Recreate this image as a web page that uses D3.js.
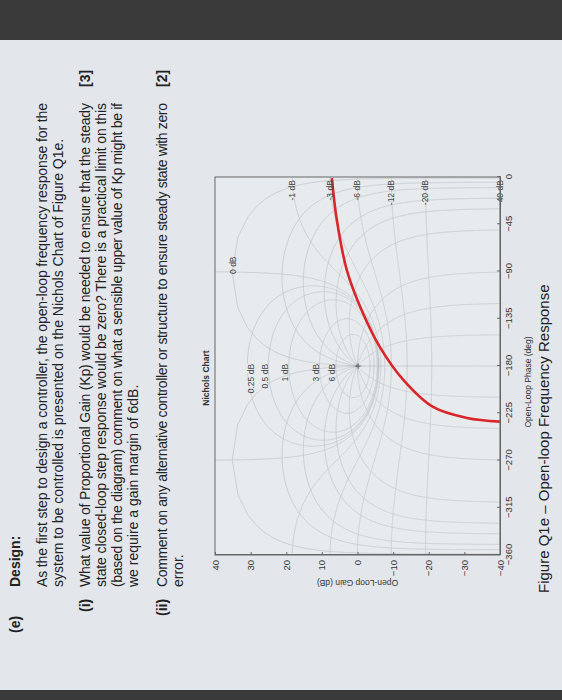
<!DOCTYPE html>
<html>
<head>
<meta charset="utf-8">
<script src="https://cdn.jsdelivr.net/npm/d3@7"></script>
<style>
  body { margin: 0; background: #3a3a3a; }
  svg { display: block; }
</style>
</head>
<body>
<div id="chart"></div>
<script>
// open-loop response (phase deg, gain dB)
const curvePhase = [-1, -41, -88.6, -129.5, -162, -193, -219, -229.5, -233];
const curveGain = [7.2, 5.8, 3.0, -1.5, -6.3, -12.8, -21.2, -30.7, -40];

// closed-loop magnitude contours (dB) and closed-loop phase contours (deg)
const mLevels = [6, 3, 1, 0.5, 0.25, 0, -1, -3, -6, -12, -20, -40];
const nLevels = [-1, -5, -10, -20, -30, -50, -90, -120, -150, -180, -210, -240, -270, -310, -330, -340, -350, -355, -359];

const phaseTicks = [-360, -315, -270, -225, -180, -135, -90, -45, 0];
const gainTicks = [-40, -30, -20, -10, 0, 10, 20, 30, 40];

const questionLines = [
    'As the first step to design a controller, the open-loop frequency response for the',
    'system to be controlled is presented on the Nichols Chart of Figure Q1e.'
];
const partOneLines = [
    'What value of Proportional Gain (Kp) would be needed to ensure that the steady',
    'state closed-loop step response would be zero? There is a practical limit on this',
    '(based on the diagram) comment on what a sensible upper value of Kp might be if',
    'we require a gain margin of 6dB.'
];
const partTwoLines = [
    'Comment on any alternative controller or structure to ensure steady state with zero',
    'error.'
];

const W = 562, H = 700;
const svg = d3.select('#chart').append('svg')
    .attr('width', W)
    .attr('height', H);

// the page is photographed turned on its side
const page = svg.append('g')
    .attr('transform', `translate(0,${H}) rotate(-90)`);

page.append('rect')
    .attr('x', 10).attr('y', 0)
    .attr('width', 650).attr('height', W)
    .attr('fill', '#e3e7eb');

const textFont = 'Liberation Sans, Arial, sans-serif';
const left = 113, right = 597;

function writeLines(lines, y0, step) {
    lines.forEach((t, i) => {
        const last = i === lines.length - 1;
        const el = page.append('text')
            .attr('x', left).attr('y', y0 + i * step)
            .attr('font-family', textFont).attr('font-size', 14)
            .attr('fill', '#222')
            .text(t);
        if (!last) el.attr('textLength', right - left).attr('lengthAdjust', 'spacing');
    });
}

function label(txt, xx, yy) {
    page.append('text').attr('x', xx).attr('y', yy)
        .attr('font-family', textFont).attr('font-size', 14).attr('font-weight', 'bold').attr('fill', '#222')
        .text(txt);
}

label('(e)', 67, 20);
label('Design:', left, 20);
writeLines(questionLines, 47, 16);
label('(i)', 88, 90);
writeLines(partOneLines, 90, 16);
label('(ii)', 84, 167);
writeLines(partTwoLines, 167, 16);
label('[3]', 613, 90);
label('[2]', 613, 167);

// chart area
const x = d3.scaleLinear().domain([-360, 0]).range([145, 523]);
const y = d3.scaleLinear().domain([-40, 40]).range([500, 215]);

page.append('rect')
    .attr('x', x(-360)).attr('y', y(40))
    .attr('width', x(0) - x(-360)).attr('height', y(-40) - y(40))
    .attr('fill', '#e8ebee');

page.append('clipPath').attr('id', 'plotclip')
    .append('rect')
    .attr('x', x(-360)).attr('y', y(40))
    .attr('width', x(0) - x(-360)).attr('height', y(-40) - y(40));

const grid = page.append('g').attr('clip-path', 'url(#plotclip)');
const line = d3.line().x(d => x(d[0])).y(d => y(d[1]));

// open-loop point for closed-loop T = m e^{j th}
function openLoop(m, th) {
    const tr = m * Math.cos(th), ti = m * Math.sin(th);
    const dr = 1 - tr, di = -ti;
    const den = dr * dr + di * di;
    const gr = (tr * dr + ti * di) / den;
    const gi = (ti * dr - tr * di) / den;
    let ph = Math.atan2(gi, gr) * 180 / Math.PI;
    if (ph > 0) ph -= 360;
    const g = 10 * Math.log10(gr * gr + gi * gi);
    return [ph, g];
}

function splitPath(pts) {
    const parts = [[]];
    pts.forEach(p => {
        if (!isFinite(p[1])) return;
        const cur = parts[parts.length - 1];
        if (cur.length && Math.abs(p[0] - cur[cur.length - 1][0]) > 180) parts.push([]);
        parts[parts.length - 1].push(p);
    });
    return parts.filter(p => p.length > 1);
}

const mPts = {};
mLevels.forEach(db => {
    const m = Math.pow(10, db / 20);
    const pts = d3.range(0.05, 360, 0.25).map(a => openLoop(m, -a * Math.PI / 180));
    mPts[db] = pts;
    splitPath(pts).forEach(p => grid.append('path')
        .attr('d', line(p)).attr('fill', 'none')
        .attr('stroke', '#c4c8cc').attr('stroke-width', 0.8));
});

nLevels.forEach(deg => {
    const th = deg * Math.PI / 180;
    const pts = d3.range(-60, 60, 0.1).map(db => openLoop(Math.pow(10, db / 20), th));
    splitPath(pts).forEach(p => grid.append('path')
        .attr('d', line(p)).attr('fill', 'none')
        .attr('stroke', '#c4c8cc').attr('stroke-width', 0.8));
});

// contour labels
const labelFont = 'Liberation Sans, Arial, sans-serif';
mLevels.forEach(db => {
    let p, anchor = 'end';
    if (db > 0) {
        const top = d3.max(mPts[db].filter(d => Math.abs(d[0] + 180) < 2), d => d[1]);
        p = [-178, Math.min(top + 1, 30)];
    } else if (db === 0) {
        p = [-84, 35];
        anchor = 'middle';
    } else {
        p = mPts[db].filter(d => d[0] < -2).reduce((a, b) => (b[0] > a[0] ? b : a));
        p = [-3, p[1]];
    }
    page.append('text')
        .attr('x', x(p[0]))
        .attr('y', y(p[1]) + 3)
        .attr('text-anchor', anchor)
        .attr('font-family', labelFont).attr('font-size', 8.5).attr('fill', '#444')
        .text(`${db} dB`);
});

// plus marker at the critical point
page.append('text')
    .attr('x', x(-180)).attr('y', y(0) + 4)
    .attr('text-anchor', 'middle')
    .attr('font-family', labelFont).attr('font-size', 11).attr('fill', '#666')
    .text('+');

// open-loop response
const pts = curvePhase.map((p, i) => [p, curveGain[i]]);
grid.append('path')
    .attr('d', d3.line().x(d => x(d[0])).y(d => y(d[1])).curve(d3.curveCatmullRom)(pts))
    .attr('fill', 'none')
    .attr('stroke', '#d8262a')
    .attr('stroke-width', 2.6);

// axes
const xAxis = d3.axisBottom(x).tickValues(phaseTicks).tickSize(-3).tickPadding(5);
const yAxis = d3.axisLeft(y).tickValues(gainTicks).tickSize(-3).tickPadding(5);

const gx = page.append('g').attr('transform', `translate(0,${y(-40)})`).call(xAxis);
const gy = page.append('g').attr('transform', `translate(${x(-360)},0)`).call(yAxis);
[gx, gy].forEach(g => {
    g.selectAll('path,line').attr('stroke', '#666');
    g.selectAll('text').attr('font-family', labelFont).attr('font-size', 9.5).attr('fill', '#333');
});
page.append('rect')
    .attr('x', x(-360)).attr('y', y(40))
    .attr('width', x(0) - x(-360)).attr('height', y(-40) - y(40))
    .attr('fill', 'none').attr('stroke', '#666');

page.append('text')
    .attr('x', (x(-360) + x(0)) / 2 - 12).attr('y', 209)
    .attr('text-anchor', 'middle')
    .attr('font-family', labelFont).attr('font-size', 8.5).attr('font-weight', 'bold').attr('fill', '#333')
    .text('Nichols Chart');

page.append('text')
    .attr('x', (x(-360) + x(0)) / 2 - 16).attr('y', 531)
    .attr('text-anchor', 'middle')
    .attr('font-family', labelFont).attr('font-size', 8.5).attr('fill', '#333')
    .text('Open-Loop Phase (deg)');

page.append('text')
    .attr('transform', `translate(120,${(y(40) + y(-40)) / 2}) rotate(-90)`)
    .attr('text-anchor', 'middle')
    .attr('font-family', labelFont).attr('font-size', 8.5).attr('fill', '#333')
    .text('Open-Loop Gain (dB)');

page.append('text')
    .attr('x', 107).attr('y', 549)
    .attr('font-family', textFont).attr('font-size', 15).attr('fill', '#222')
    .text('Figure Q1e \u2013 Open-loop Frequency Response');
</script>
</body>
</html>
